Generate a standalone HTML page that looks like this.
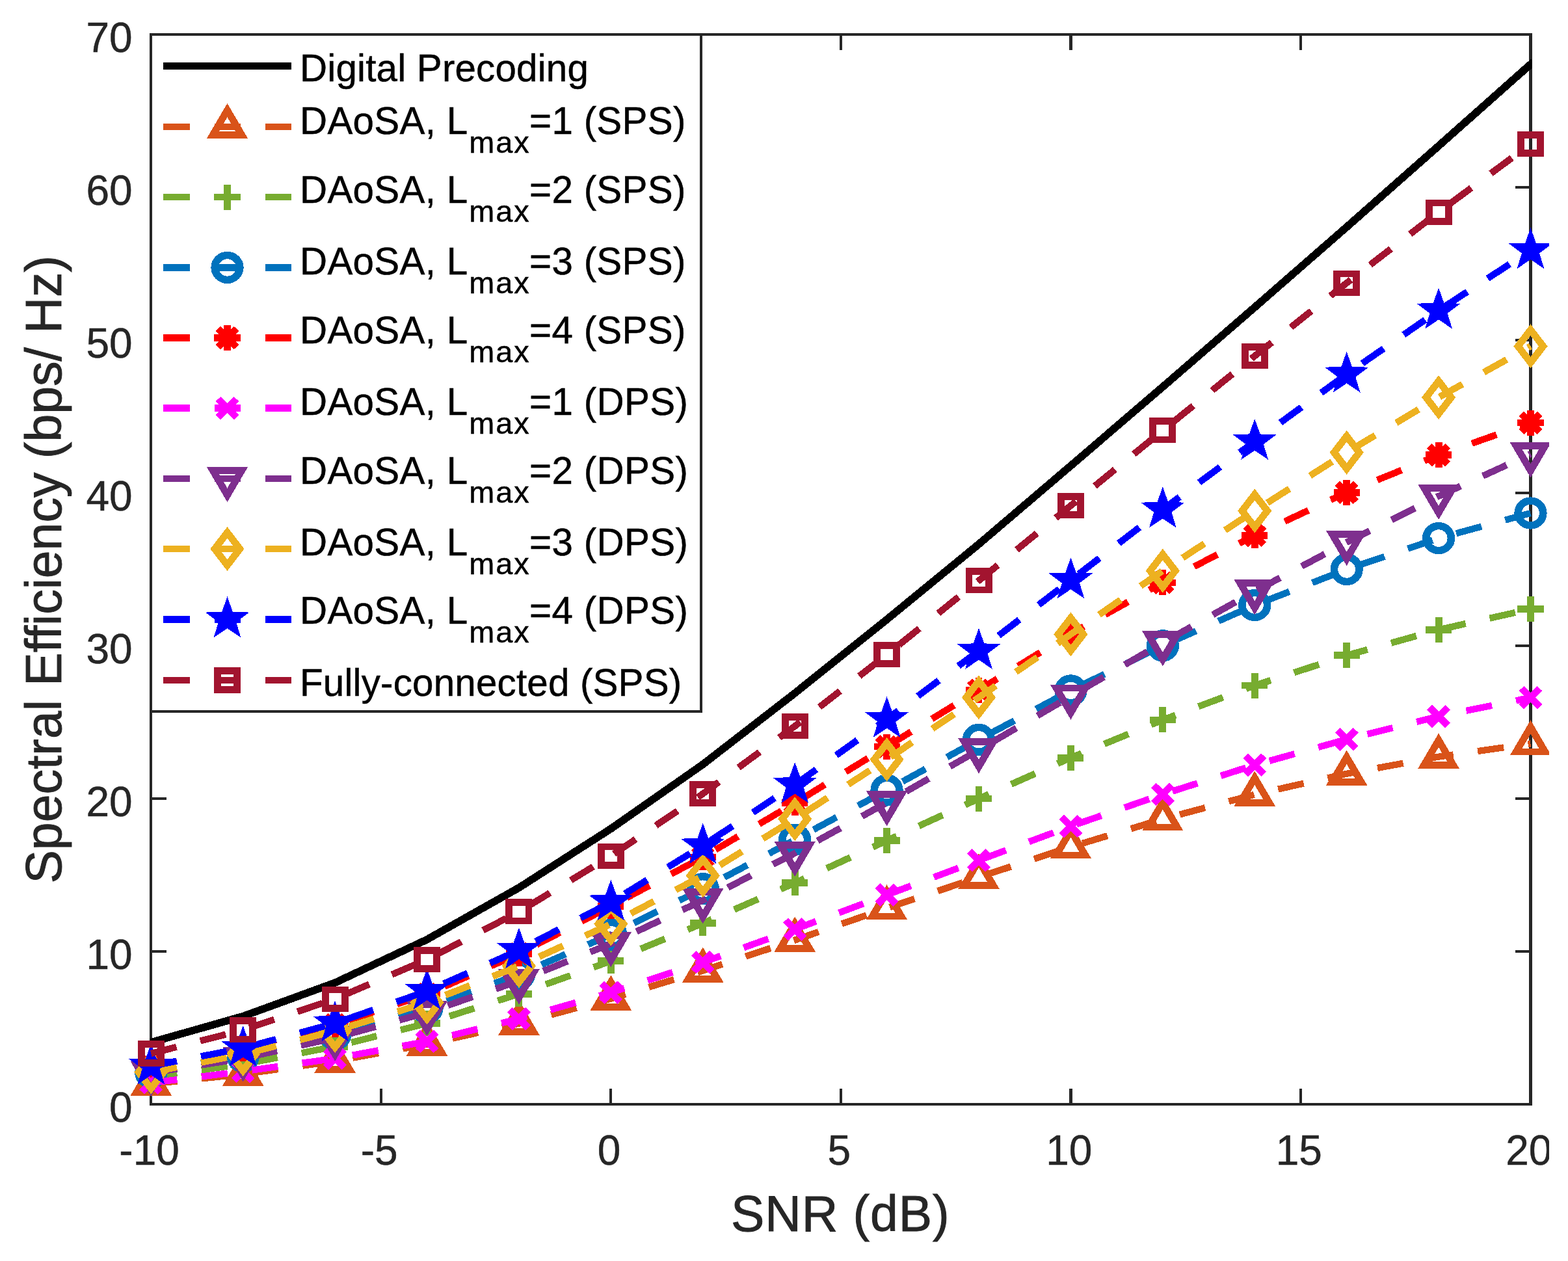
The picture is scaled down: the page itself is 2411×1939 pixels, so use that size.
<!DOCTYPE html>
<html lang="en"><head><meta charset="utf-8"><title>Spectral Efficiency vs SNR</title>
<style>html,body{margin:0;padding:0;background:#fff}body{width:2411px;height:1939px;overflow:hidden}svg{display:block}text{font-family:"Liberation Sans",Arial,Helvetica,sans-serif}</style>
</head><body>
<svg xmlns="http://www.w3.org/2000/svg" width="2411" height="1939" viewBox="0 0 2411 1939">
<defs><clipPath id="fig"><rect x="0" y="0" width="2382" height="1939"/></clipPath>
<clipPath id="ax"><rect x="225.31" y="50.9" width="2080.26" height="1649.2"/></clipPath>
<path id="m-tri" d="M0 -25.4L21.8 12.6L-21.8 12.6Z"/><path id="m-dtri" d="M0 25.4L21.8 -12.6L-21.8 -12.6Z"/><path id="m-plus" d="M-19.6 0H19.6M0 -19.5V19.5"/><path id="m-x" d="M-13.8 -14L13.8 14M-13.8 14L13.8 -14"/><path id="m-ast" d="M-19.6 0H19.6M0 -19.5V19.5M-13.8 -14L13.8 14M-13.8 14L13.8 -14"/><circle id="m-circle" r="18.9" stroke-width="11.4"/><rect id="m-sq" x="-14.7" y="-14.2" width="29.4" height="28.4"/><path id="m-dia" d="M0 -25.1L18.9 0L0 25.1L-18.9 0Z"/><polygon id="m-star" points="0,-34.8 8.23,-11.33 33.1,-10.75 13.31,4.33 20.45,28.15 0,14 -20.45,28.15 -13.31,4.33 -33.1,-10.75 -8.23,-11.33" stroke="none"/>
</defs>
<rect width="2411" height="1939" fill="#fff"/>
<g clip-path="url(#fig)">
<g stroke="#262626" stroke-width="4.2" fill="none" shape-rendering="crispEdges"><rect x="232.3" y="53" width="2121.2" height="1645"/><path d="M232.3 1698v-23.6M232.3 53v23.6M585.83 1698v-23.6M585.83 53v23.6M939.37 1698v-23.6M939.37 53v23.6M1292.9 1698v-23.6M1292.9 53v23.6M1646.43 1698v-23.6M1646.43 53v23.6M1999.97 1698v-23.6M1999.97 53v23.6M2353.5 1698v-23.6M2353.5 53v23.6M232.3 1698h23.6M2353.5 1698h-23.6M232.3 1463h23.6M2353.5 1463h-23.6M232.3 1228h23.6M2353.5 1228h-23.6M232.3 993h23.6M2353.5 993h-23.6M232.3 758h23.6M2353.5 758h-23.6M232.3 523h23.6M2353.5 523h-23.6M232.3 288h23.6M2353.5 288h-23.6M232.3 53h23.6M2353.5 53h-23.6"/></g>
<g font-size="64" fill="#262626" stroke="#262626" stroke-width="0.5">
<text x="229.6" y="1790.6" text-anchor="middle">-10</text>
<text x="583.13" y="1790.6" text-anchor="middle">-5</text>
<text x="936.67" y="1790.6" text-anchor="middle">0</text>
<text x="1290.2" y="1790.6" text-anchor="middle">5</text>
<text x="1643.73" y="1790.6" text-anchor="middle">10</text>
<text x="1997.27" y="1790.6" text-anchor="middle">15</text>
<text x="2350.8" y="1790.6" text-anchor="middle">20</text>
<text x="203.6" y="1724.6" text-anchor="end">0</text>
<text x="203.6" y="1489.6" text-anchor="end">10</text>
<text x="203.6" y="1254.6" text-anchor="end">20</text>
<text x="203.6" y="1019.6" text-anchor="end">30</text>
<text x="203.6" y="784.6" text-anchor="end">40</text>
<text x="203.6" y="549.6" text-anchor="end">50</text>
<text x="203.6" y="314.6" text-anchor="end">60</text>
<text x="203.6" y="79.6" text-anchor="end">70</text>
</g>
<text x="1124" y="1893" font-size="77" fill="#262626" stroke="#262626" stroke-width="0.9" letter-spacing="0.87">SNR (dB)</text>
<text transform="translate(94 875.7) rotate(-90)" font-size="77" fill="#262626" stroke="#262626" stroke-width="0.9" text-anchor="middle">Spectral Efficiency (bps/ Hz)</text>
<g transform="scale(1.0217 1)" shape-rendering="crispEdges" fill="none" stroke-width="10.7" stroke-miterlimit="10">
<polyline clip-path="url(#ax)" points="227.37,1602.83 365.78,1562.64 504.19,1511.17 642.6,1444.67 781.01,1365.01 919.42,1274.3 1057.83,1175.36 1196.24,1065.85 1334.64,952.58 1473.05,836.73 1611.46,716.17 1749.87,594.91 1888.28,472.47 2026.69,349.1 2165.1,224.32 2303.51,98.83" stroke="#000000" stroke-width="11.6" stroke-linejoin="round" stroke-linecap="square"/>
<polyline clip-path="url(#ax)" points="227.37,1666.74 365.78,1651.7 504.19,1631.73 642.6,1605.64 781.01,1573.68 919.42,1535.62 1057.83,1492.61 1196.24,1445.61 1334.64,1396.49 1473.05,1348.79 1611.46,1302.26 1749.87,1259.49 1888.28,1221.65 2026.69,1189.69 2165.1,1163.61 2303.51,1143.4" stroke="#D95319" stroke-width="10.2" stroke-dasharray="39.542 36.997" stroke-linejoin="round"/>
<g stroke="#D95319" fill="none"><use href="#m-tri" x="227.37" y="1666.74"/><use href="#m-tri" x="365.78" y="1651.7"/><use href="#m-tri" x="504.19" y="1631.73"/><use href="#m-tri" x="642.6" y="1605.64"/><use href="#m-tri" x="781.01" y="1573.68"/><use href="#m-tri" x="919.42" y="1535.62"/><use href="#m-tri" x="1057.83" y="1492.61"/><use href="#m-tri" x="1196.24" y="1445.61"/><use href="#m-tri" x="1334.64" y="1396.49"/><use href="#m-tri" x="1473.05" y="1348.79"/><use href="#m-tri" x="1611.46" y="1302.26"/><use href="#m-tri" x="1749.87" y="1259.49"/><use href="#m-tri" x="1888.28" y="1221.65"/><use href="#m-tri" x="2026.69" y="1189.69"/><use href="#m-tri" x="2165.1" y="1163.61"/><use href="#m-tri" x="2303.51" y="1143.4"/></g>
<polyline clip-path="url(#ax)" points="227.37,1655.7 365.78,1636.43 504.19,1609.17 642.6,1573.68 781.01,1528.33 919.42,1477.81 1057.83,1419.76 1196.24,1357.72 1334.64,1292.62 1473.05,1228 1611.46,1165.26 1749.87,1106.97 1888.28,1054.1 2026.69,1007.8 2165.1,968.33 2303.51,936.6" stroke="#77AC30" stroke-width="10.2" stroke-dasharray="39.542 36.997" stroke-linejoin="round"/>
<g stroke="#77AC30" fill="none"><use href="#m-plus" x="227.37" y="1655.7"/><use href="#m-plus" x="365.78" y="1636.43"/><use href="#m-plus" x="504.19" y="1609.17"/><use href="#m-plus" x="642.6" y="1573.68"/><use href="#m-plus" x="781.01" y="1528.33"/><use href="#m-plus" x="919.42" y="1477.81"/><use href="#m-plus" x="1057.83" y="1419.76"/><use href="#m-plus" x="1196.24" y="1357.72"/><use href="#m-plus" x="1334.64" y="1292.62"/><use href="#m-plus" x="1473.05" y="1228"/><use href="#m-plus" x="1611.46" y="1165.26"/><use href="#m-plus" x="1749.87" y="1106.97"/><use href="#m-plus" x="1888.28" y="1054.1"/><use href="#m-plus" x="2026.69" y="1007.8"/><use href="#m-plus" x="2165.1" y="968.33"/><use href="#m-plus" x="2303.51" y="936.6"/></g>
<polyline clip-path="url(#ax)" points="227.37,1649.36 365.78,1624.68 504.19,1591.08 642.6,1549.95 781.01,1498.25 919.42,1437.15 1057.83,1366.65 1196.24,1291.22 1334.64,1215.08 1473.05,1137.29 1611.46,1061.86 1749.87,992.76 1888.28,930.49 2026.69,875.5 2165.1,827.56 2303.51,789.02" stroke="#0072BD" stroke-width="10.2" stroke-dasharray="39.542 36.997" stroke-linejoin="round"/>
<g stroke="#0072BD" fill="none"><use href="#m-circle" x="227.37" y="1649.36"/><use href="#m-circle" x="365.78" y="1624.68"/><use href="#m-circle" x="504.19" y="1591.08"/><use href="#m-circle" x="642.6" y="1549.95"/><use href="#m-circle" x="781.01" y="1498.25"/><use href="#m-circle" x="919.42" y="1437.15"/><use href="#m-circle" x="1057.83" y="1366.65"/><use href="#m-circle" x="1196.24" y="1291.22"/><use href="#m-circle" x="1334.64" y="1215.08"/><use href="#m-circle" x="1473.05" y="1137.29"/><use href="#m-circle" x="1611.46" y="1061.86"/><use href="#m-circle" x="1749.87" y="992.76"/><use href="#m-circle" x="1888.28" y="930.49"/><use href="#m-circle" x="2026.69" y="875.5"/><use href="#m-circle" x="2165.1" y="827.56"/><use href="#m-circle" x="2303.51" y="789.02"/></g>
<polyline clip-path="url(#ax)" points="227.37,1639.25 365.78,1612.22 504.19,1575.8 642.6,1528.8 781.01,1466.53 919.42,1393.44 1057.83,1318.01 1196.24,1234.82 1334.64,1148.1 1473.05,1061.15 1611.46,974.44 1749.87,895.94 1888.28,823.33 2026.69,757.29 2165.1,699.72 2303.51,650.13" stroke="#FF0000" stroke-width="10.2" stroke-dasharray="39.542 36.997" stroke-linejoin="round"/>
<g stroke="#FF0000" fill="none"><use href="#m-ast" x="227.37" y="1639.25"/><use href="#m-ast" x="365.78" y="1612.22"/><use href="#m-ast" x="504.19" y="1575.8"/><use href="#m-ast" x="642.6" y="1528.8"/><use href="#m-ast" x="781.01" y="1466.53"/><use href="#m-ast" x="919.42" y="1393.44"/><use href="#m-ast" x="1057.83" y="1318.01"/><use href="#m-ast" x="1196.24" y="1234.82"/><use href="#m-ast" x="1334.64" y="1148.1"/><use href="#m-ast" x="1473.05" y="1061.15"/><use href="#m-ast" x="1611.46" y="974.44"/><use href="#m-ast" x="1749.87" y="895.94"/><use href="#m-ast" x="1888.28" y="823.33"/><use href="#m-ast" x="2026.69" y="757.29"/><use href="#m-ast" x="2165.1" y="699.72"/><use href="#m-ast" x="2303.51" y="650.13"/></g>
<polyline clip-path="url(#ax)" points="227.37,1665.1 365.78,1647.47 504.19,1627.5 642.6,1601.41 781.01,1566.63 919.42,1526.21 1057.83,1479.68 1196.24,1428.92 1334.64,1376.05 1473.05,1322.94 1611.46,1270.53 1749.87,1221.42 1888.28,1176.3 2026.69,1136.82 2165.1,1101.57 2303.51,1072.66" stroke="#FF00FF" stroke-width="10.2" stroke-dasharray="39.542 36.997" stroke-linejoin="round"/>
<g stroke="#FF00FF" fill="none"><use href="#m-x" x="227.37" y="1665.1"/><use href="#m-x" x="365.78" y="1647.47"/><use href="#m-x" x="504.19" y="1627.5"/><use href="#m-x" x="642.6" y="1601.41"/><use href="#m-x" x="781.01" y="1566.63"/><use href="#m-x" x="919.42" y="1526.21"/><use href="#m-x" x="1057.83" y="1479.68"/><use href="#m-x" x="1196.24" y="1428.92"/><use href="#m-x" x="1334.64" y="1376.05"/><use href="#m-x" x="1473.05" y="1322.94"/><use href="#m-x" x="1611.46" y="1270.53"/><use href="#m-x" x="1749.87" y="1221.42"/><use href="#m-x" x="1888.28" y="1176.3"/><use href="#m-x" x="2026.69" y="1136.82"/><use href="#m-x" x="2165.1" y="1101.57"/><use href="#m-x" x="2303.51" y="1072.66"/></g>
<polyline clip-path="url(#ax)" points="227.37,1649.83 365.78,1627.5 504.19,1595.78 642.6,1557 781.01,1508.36 919.42,1451.01 1057.83,1384.28 1196.24,1311.89 1334.64,1234.11 1473.05,1153.27 1611.46,1070.55 1749.87,988.3 1888.28,909.34 2026.69,833.9 2165.1,762.94 2303.51,698.31" stroke="#7E2F8E" stroke-width="10.2" stroke-dasharray="39.542 36.997" stroke-linejoin="round"/>
<g stroke="#7E2F8E" fill="none"><use href="#m-dtri" x="227.37" y="1649.83"/><use href="#m-dtri" x="365.78" y="1627.5"/><use href="#m-dtri" x="504.19" y="1595.78"/><use href="#m-dtri" x="642.6" y="1557"/><use href="#m-dtri" x="781.01" y="1508.36"/><use href="#m-dtri" x="919.42" y="1451.01"/><use href="#m-dtri" x="1057.83" y="1384.28"/><use href="#m-dtri" x="1196.24" y="1311.89"/><use href="#m-dtri" x="1334.64" y="1234.11"/><use href="#m-dtri" x="1473.05" y="1153.27"/><use href="#m-dtri" x="1611.46" y="1070.55"/><use href="#m-dtri" x="1749.87" y="988.3"/><use href="#m-dtri" x="1888.28" y="909.34"/><use href="#m-dtri" x="2026.69" y="833.9"/><use href="#m-dtri" x="2165.1" y="762.94"/><use href="#m-dtri" x="2303.51" y="698.31"/></g>
<polyline clip-path="url(#ax)" points="227.37,1648.65 365.78,1621.15 504.19,1585.2 642.6,1541.49 781.01,1485.33 919.42,1420.7 1057.83,1346.44 1196.24,1259.26 1334.64,1167.84 1473.05,1072.43 1611.46,975.38 1749.87,877.62 1888.28,785.5 2026.69,695.73 2165.1,611.12 2303.51,532.4" stroke="#EDB120" stroke-width="10.2" stroke-dasharray="39.542 36.997" stroke-linejoin="round"/>
<g stroke="#EDB120" fill="none"><use href="#m-dia" x="227.37" y="1648.65"/><use href="#m-dia" x="365.78" y="1621.15"/><use href="#m-dia" x="504.19" y="1585.2"/><use href="#m-dia" x="642.6" y="1541.49"/><use href="#m-dia" x="781.01" y="1485.33"/><use href="#m-dia" x="919.42" y="1420.7"/><use href="#m-dia" x="1057.83" y="1346.44"/><use href="#m-dia" x="1196.24" y="1259.26"/><use href="#m-dia" x="1334.64" y="1167.84"/><use href="#m-dia" x="1473.05" y="1072.43"/><use href="#m-dia" x="1611.46" y="975.38"/><use href="#m-dia" x="1749.87" y="877.62"/><use href="#m-dia" x="1888.28" y="785.5"/><use href="#m-dia" x="2026.69" y="695.73"/><use href="#m-dia" x="2165.1" y="611.12"/><use href="#m-dia" x="2303.51" y="532.4"/></g>
<polyline clip-path="url(#ax)" points="227.37,1639.25 365.78,1611.76 504.19,1573.45 642.6,1524.1 781.01,1461.12 919.42,1387.33 1057.83,1300.38 1196.24,1206.62 1334.64,1105.8 1473.05,1000.75 1611.46,892.19 1749.87,783.38 1888.28,678.81 2026.69,575.4 2165.1,477.41 2303.51,385.06" stroke="#0000FF" stroke-width="10.2" stroke-dasharray="39.542 36.997" stroke-linejoin="round"/>
<g stroke="#0000FF" fill="#0000FF"><use href="#m-star" x="227.37" y="1639.25"/><use href="#m-star" x="365.78" y="1611.76"/><use href="#m-star" x="504.19" y="1573.45"/><use href="#m-star" x="642.6" y="1524.1"/><use href="#m-star" x="781.01" y="1461.12"/><use href="#m-star" x="919.42" y="1387.33"/><use href="#m-star" x="1057.83" y="1300.38"/><use href="#m-star" x="1196.24" y="1206.62"/><use href="#m-star" x="1334.64" y="1105.8"/><use href="#m-star" x="1473.05" y="1000.75"/><use href="#m-star" x="1611.46" y="892.19"/><use href="#m-star" x="1749.87" y="783.38"/><use href="#m-star" x="1888.28" y="678.81"/><use href="#m-star" x="2026.69" y="575.4"/><use href="#m-star" x="2165.1" y="477.41"/><use href="#m-star" x="2303.51" y="385.06"/></g>
<polyline clip-path="url(#ax)" points="227.37,1619.98 365.78,1583.79 504.19,1536.09 642.6,1475.45 781.01,1401.9 919.42,1316.12 1057.83,1220.48 1196.24,1116.61 1334.64,1006.63 1473.05,892.89 1611.46,777.5 1749.87,661.88 1888.28,547.44 2026.69,435.11 2165.1,326.07 2303.51,221.5" stroke="#A2142F" stroke-width="10.2" stroke-dasharray="39.542 37.037" stroke-linejoin="round"/>
<g stroke="#A2142F" fill="none"><use href="#m-sq" x="227.37" y="1619.98"/><use href="#m-sq" x="365.78" y="1583.79"/><use href="#m-sq" x="504.19" y="1536.09"/><use href="#m-sq" x="642.6" y="1475.45"/><use href="#m-sq" x="781.01" y="1401.9"/><use href="#m-sq" x="919.42" y="1316.12"/><use href="#m-sq" x="1057.83" y="1220.48"/><use href="#m-sq" x="1196.24" y="1116.61"/><use href="#m-sq" x="1334.64" y="1006.63"/><use href="#m-sq" x="1473.05" y="892.89"/><use href="#m-sq" x="1611.46" y="777.5"/><use href="#m-sq" x="1749.87" y="661.88"/><use href="#m-sq" x="1888.28" y="547.44"/><use href="#m-sq" x="2026.69" y="435.11"/><use href="#m-sq" x="2165.1" y="326.07"/><use href="#m-sq" x="2303.51" y="221.5"/></g>
</g>
<rect x="232.3" y="53" width="846" height="1041" fill="#fff" stroke="#262626" stroke-width="4.2" shape-rendering="crispEdges"/>
<g shape-rendering="crispEdges">
<rect x="251" y="96" width="197" height="11" fill="#000000"/>
<path d="M251 190h41v10h-41zM330 190h40v10h-40zM408 190h40v10h-40z" fill="#D95319"/>
<path d="M251 298h41v10h-41zM330 298h40v10h-40zM408 298h40v10h-40z" fill="#77AC30"/>
<path d="M251 406h41v11h-41zM330 406h40v11h-40zM408 406h40v11h-40z" fill="#0072BD"/>
<path d="M251 514h41v11h-41zM330 514h40v11h-40zM408 514h40v11h-40z" fill="#FF0000"/>
<path d="M251 622h41v11h-41zM330 622h40v11h-40zM408 622h40v11h-40z" fill="#FF00FF"/>
<path d="M251 731h41v10h-41zM330 731h40v10h-40zM408 731h40v10h-40z" fill="#7E2F8E"/>
<path d="M251 839h41v10h-41zM330 839h40v10h-40zM408 839h40v10h-40z" fill="#EDB120"/>
<path d="M251 947h41v11h-41zM330 947h40v11h-40zM408 947h40v11h-40z" fill="#0000FF"/>
<path d="M251 1041h41v10h-41zM330 1041h40v10h-40zM408 1041h40v10h-40z" fill="#A2142F"/>
</g>
<g transform="scale(1.0217 1)" shape-rendering="crispEdges" fill="none" stroke-width="10.7" stroke-miterlimit="10">
<g stroke="#D95319" fill="none"><use href="#m-tri" x="342.08" y="195"/></g>
<g stroke="#77AC30" fill="none"><use href="#m-plus" x="342.08" y="303.1"/></g>
<g stroke="#0072BD" fill="none"><use href="#m-circle" x="342.08" y="411.4"/></g>
<g stroke="#FF0000" fill="none"><use href="#m-ast" x="342.08" y="519.5"/></g>
<g stroke="#FF00FF" fill="none"><use href="#m-x" x="342.08" y="627.6"/></g>
<g stroke="#7E2F8E" fill="none"><use href="#m-dtri" x="342.08" y="735.9"/></g>
<g stroke="#EDB120" fill="none"><use href="#m-dia" x="342.08" y="844"/></g>
<g stroke="#0000FF" fill="#0000FF"><use href="#m-star" x="342.08" y="952.3"/></g>
<g stroke="#A2142F" fill="none"><use href="#m-sq" x="342.08" y="1046"/></g>
</g>
<g font-size="58.3" fill="#000" stroke="#000" stroke-width="0.5">
<text x="461" y="124.6" letter-spacing="0.2">Digital Precoding</text>
<text x="461" y="206" letter-spacing="0.31">DAoSA, L</text>
<text x="721.3" y="234.8" font-size="46.8" letter-spacing="2">max</text>
<text x="814.1" y="206" letter-spacing="0.3">=1 (SPS)</text>
<text x="461" y="312" letter-spacing="0.31">DAoSA, L</text>
<text x="721.3" y="340.8" font-size="46.8" letter-spacing="2">max</text>
<text x="814.1" y="312" letter-spacing="0.3">=2 (SPS)</text>
<text x="461" y="422" letter-spacing="0.31">DAoSA, L</text>
<text x="721.3" y="450.8" font-size="46.8" letter-spacing="2">max</text>
<text x="814.1" y="422" letter-spacing="0.3">=3 (SPS)</text>
<text x="461" y="528" letter-spacing="0.31">DAoSA, L</text>
<text x="721.3" y="556.8" font-size="46.8" letter-spacing="2">max</text>
<text x="814.1" y="528" letter-spacing="0.3">=4 (SPS)</text>
<text x="461" y="638" letter-spacing="0.31">DAoSA, L</text>
<text x="721.3" y="666.8" font-size="46.8" letter-spacing="2">max</text>
<text x="814.1" y="638" letter-spacing="0.36">=1 (DPS)</text>
<text x="461" y="744" letter-spacing="0.31">DAoSA, L</text>
<text x="721.3" y="772.8" font-size="46.8" letter-spacing="2">max</text>
<text x="814.1" y="744" letter-spacing="0.36">=2 (DPS)</text>
<text x="461" y="854" letter-spacing="0.31">DAoSA, L</text>
<text x="721.3" y="882.8" font-size="46.8" letter-spacing="2">max</text>
<text x="814.1" y="854" letter-spacing="0.36">=3 (DPS)</text>
<text x="461" y="959" letter-spacing="0.31">DAoSA, L</text>
<text x="721.3" y="987.8" font-size="46.8" letter-spacing="2">max</text>
<text x="814.1" y="959" letter-spacing="0.36">=4 (DPS)</text>
<text x="461" y="1070" letter-spacing="0.2">Fully-connected (SPS)</text>
</g>
</g>
</svg></body></html>
